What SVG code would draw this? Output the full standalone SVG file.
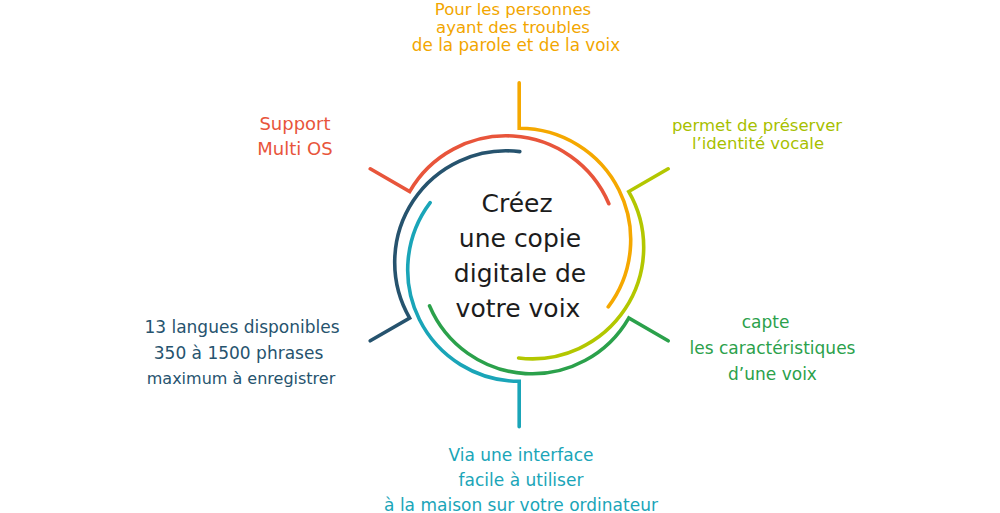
<svg xmlns="http://www.w3.org/2000/svg" width="1000" height="513" viewBox="0 0 1000 513">
<defs>
<style>
.arc{fill:none;stroke-width:3.6;stroke-linecap:round;stroke-linejoin:miter}
.lbl{font-family:"DejaVu Sans","Liberation Sans",sans-serif;font-size:17px;text-anchor:middle}
.ctr{font-family:"DejaVu Sans","Liberation Sans",sans-serif;font-size:25px;text-anchor:middle;fill:#1c1c1c}
</style>
<path id="seg" d="M519.2,82.8 L519.2,128.3 A111.5,111.5 0 0 1 608.25,306.9"/>
</defs>
<rect width="1000" height="513" fill="#ffffff"/>
<g id="connectors">
<use href="#seg" class="arc" stroke="#f5a800"/>
<use href="#seg" class="arc" stroke="#b3c700" transform="rotate(60 519.2 254.8)"/>
<use href="#seg" class="arc" stroke="#2ba14b" transform="rotate(120 519.2 254.8)"/>
<use href="#seg" class="arc" stroke="#1aa5b8" transform="rotate(180 519.2 254.8)"/>
<use href="#seg" class="arc" stroke="#26536e" transform="rotate(240 519.2 254.8)"/>
<use href="#seg" class="arc" stroke="#e8553b" transform="rotate(300 519.2 254.8)"/>
</g>
<g id="center">
<text class="ctr" x="517" y="212">Créez</text>
<text class="ctr" x="520" y="247">une copie</text>
<text class="ctr" x="520" y="282">digitale de</text>
<text class="ctr" x="518" y="317">votre voix</text>
</g>
<g id="node-top" fill="#f2a600">
<text class="lbl" x="513" y="15" style="font-size:16.5px">Pour les personnes</text>
<text class="lbl" x="513" y="33" style="font-size:16.5px">ayant des troubles</text>
<text class="lbl" x="516" y="51" style="font-size:16.8px">de la parole et de la voix</text>
</g>
<g id="node-upper-right" fill="#a8bf00">
<text class="lbl" x="757" y="130.5" style="font-size:16.5px">permet de préserver</text>
<text class="lbl" x="758" y="148.5" style="font-size:16.5px">l’identité vocale</text>
</g>
<g id="node-lower-right" fill="#2ba14b">
<text class="lbl" x="765.5" y="328">capte</text>
<text class="lbl" x="772.5" y="354">les caractéristiques</text>
<text class="lbl" x="772.5" y="380">d’une voix</text>
</g>
<g id="node-bottom" fill="#1aa5b8">
<text class="lbl" x="521" y="461">Via une interface</text>
<text class="lbl" x="521" y="486">facile à utiliser</text>
<text class="lbl" x="521" y="511">à la maison sur votre ordinateur</text>
</g>
<g id="node-lower-left" fill="#26536e">
<text class="lbl" x="242" y="333">13 langues disponibles</text>
<text class="lbl" x="238.5" y="359">350 à 1500 phrases</text>
<text class="lbl" x="241" y="384" style="font-size:16px">maximum à enregistrer</text>
</g>
<g id="node-upper-left" fill="#e8553b">
<text class="lbl" x="295" y="130" style="font-size:18px">Support</text>
<text class="lbl" x="295" y="155" style="font-size:18px">Multi OS</text>
</g>
</svg>
